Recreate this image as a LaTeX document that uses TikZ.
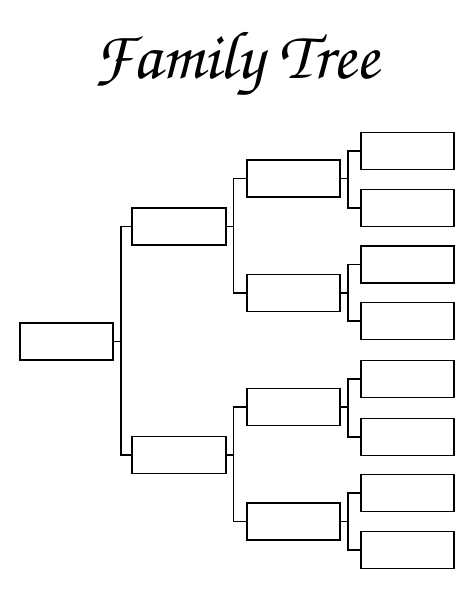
\documentclass[tikz,border=0pt]{standalone}
\usepackage[T1,TU]{fontenc}
\tikzset{
  box/.style={draw=black, line width=1.5pt, rectangle, minimum width=93pt, minimum height=37pt, inner sep=0pt, outer sep=0pt},
  wire/.style={draw=black, line width=1.5pt},
}
\begin{document}
\begin{tikzpicture}[x=1pt,y=-1pt]
\useasboundingbox (0,0) rectangle (474,592);
\fill[white] (0,0) rectangle (474,592);
\node[anchor=base, inner sep=0pt] (title) at (236,78) {\fontencoding{T1}\fontfamily{pzc}\fontseries{mb}\fontshape{it}\fontsize{68}{70}\selectfont Family Tree};
% generations
\node[box] (r) at (66.5,341.5) {};
\node[box, minimum width=94pt] (a1) at (179,226.5) {};
\node[box, minimum width=94pt] (a2) at (179,455) {};
\node[box] (b1) at (293.5,178.7) {};
\node[box] (b2) at (293.5,293) {};
\node[box] (b3) at (293.5,407) {};
\node[box] (b4) at (293.5,521.3) {};
\node[box] (c1) at (407.5,151) {};
\node[box] (c2) at (407.5,208) {};
\node[box] (c3) at (407.5,264.5) {};
\node[box] (c4) at (407.5,321) {};
\node[box] (c5) at (407.5,379) {};
\node[box] (c6) at (407.5,437) {};
\node[box] (c7) at (407.5,493) {};
\node[box] (c8) at (407.5,550) {};
% connectors
\draw[wire] (r.east) -- ++(8,0) coordinate (j0);
\draw[wire] (a1.west) -| (j0) |- (a2.west);
\draw[wire] (a1.east) -- ++(7.5,0) coordinate (j1);
\draw[wire] (b1.west) -| (j1) |- (b2.west);
\draw[wire] (a2.east) -- ++(7.5,0) coordinate (j2);
\draw[wire] (b3.west) -| (j2) |- (b4.west);
\draw[wire] (b1.east) -- ++(8,0) coordinate (k1);
\draw[wire] (c1.west) -| (k1) |- (c2.west);
\draw[wire] (b2.east) -- ++(8,0) coordinate (k2);
\draw[wire] (c3.west) -| (k2) |- (c4.west);
\draw[wire] (b3.east) -- ++(8,0) coordinate (k3);
\draw[wire] (c5.west) -| (k3) |- (c6.west);
\draw[wire] (b4.east) -- ++(8,0) coordinate (k4);
\draw[wire] (c7.west) -| (k4) |- (c8.west);
\end{tikzpicture}
\end{document}
